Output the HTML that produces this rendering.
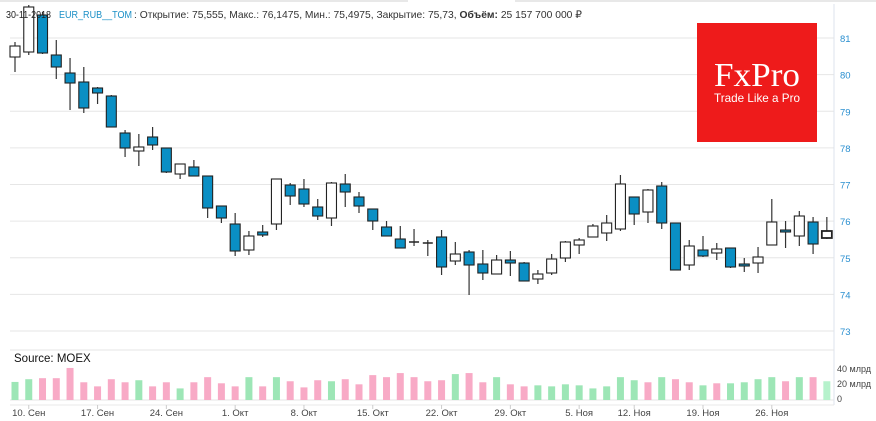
<!DOCTYPE html>
<html><head><meta charset="utf-8"><style>
body{margin:0;background:#fff;}
svg{display:block;font-family:"Liberation Sans",sans-serif;}
</style></head><body>
<svg id="s" width="876" height="421" xmlns="http://www.w3.org/2000/svg">
<rect width="876" height="421" fill="#fff"/>
<line x1="0" y1="1" x2="408" y2="1" stroke="#e8e8e8" stroke-width="2"/>
<line x1="515" y1="1" x2="876" y2="1" stroke="#e8e8e8" stroke-width="2"/>
<g id="grid"></g>
<line x1="834" y1="4" x2="834" y2="405" stroke="#dde3ec"/>
<rect x="697" y="23" width="120" height="119" fill="#ee1b1b"/>
<text x="757" y="86" fill="#fff" font-family="Liberation Serif,serif" font-size="34" text-anchor="middle" textLength="86" lengthAdjust="spacingAndGlyphs">FxPro</text>
<text x="757" y="102" fill="#fff" font-size="12" text-anchor="middle" textLength="86" lengthAdjust="spacingAndGlyphs">Trade Like a Pro</text>
<g id="c"></g>
<text x="6" y="18" font-size="10.5" fill="#222" textLength="45" lengthAdjust="spacingAndGlyphs">30-11-2018</text>
<text x="59" y="18" font-size="10.5" fill="#1a8fc6" textLength="73" lengthAdjust="spacingAndGlyphs">EUR_RUB__TOM</text>
<text x="134" y="18" font-size="10.3" fill="#333"> : Открытие: 75,555, Макс.: 76,1475, Мин.: 75,4975, Закрытие: 75,73, <tspan font-weight="bold">Объём:</tspan> 25 157 700 000 ₽</text>
<line x1="10" y1="350" x2="834" y2="350" stroke="#e4e4e4"/>
<text x="14" y="362" font-size="11.5" fill="#111">Source: MOEX</text>
<line x1="10" y1="400" x2="834" y2="400" stroke="#e4e4e4"/>
<line x1="10" y1="405" x2="834" y2="405" stroke="#e8e8e8"/>
<text x="837" y="372" font-size="9" fill="#444">40 млрд</text>
<text x="837" y="387" font-size="9" fill="#444">20 млрд</text>
<text x="837" y="402" font-size="9" fill="#444">0</text>
<g id="v"></g>
<g id="d"></g>
</svg>
<script>
var NS="http://www.w3.org/2000/svg";
function el(p,t,a,txt){var e=document.createElementNS(NS,t);for(var k in a)e.setAttribute(k,a[k]);if(txt)e.textContent=txt;document.getElementById(p).appendChild(e);}
for(var p=73;p<=81;p++){var y=38+(81-p)*36.625;el("grid","line",{x1:10,y1:y,x2:834,y2:y,stroke:"#e6e6e6"});el("grid","text",{x:840,y:y+4,"font-size":9.5,fill:"#2a8fd0"},String(p));}
var C=[[46,57,42,72,1],[7,52,5,55,1],[15,53,12,54,0],[55,67,40,79,0],[73,83,58,110,0],[82,108,67,113,0],[88,93,87,104,0],[96,127,95,127,0],[133,148,130,157,0],[147,151,134,166,1],[137,145,127,150,0],[148,172,148,173,0],[164,174,164,179,1],[167,176,160,176,0],[176,208,176,218,0],[206,218,206,223,0],[224,251,213,256,0],[236,250,231,255,1],[232,235,225,237,0],[179,224,179,230,1],[185,196,183,205,0],[189,204,179,207,0],[207,216,199,220,0],[183,218,182,226,1],[184,192,174,207,0],[197,206,192,213,0],[209,221,209,230,0],[227,236,221,236,0],[239,248,226,248,0],[242,242,229,246,2],[243,243,240,256,2],[237,267,230,275,0],[254,261,242,265,1],[252,265,250,295,0],[264,273,250,280,0],[260,274,255,274,1],[260,263,251,276,0],[263,281,262,281,0],[274,279,270,284,1],[259,273,254,275,1],[242,258,241,262,1],[240,245,238,254,1],[226,237,224,237,1],[223,233,215,241,1],[184,229,175,231,1],[197,214,197,225,0],[190,212,189,223,1],[186,223,182,229,0],[223,270,223,270,0],[246,265,240,270,1],[250,256,236,257,0],[249,253,243,260,1],[248,267,248,268,0],[264,266,258,272,0],[257,263,247,273,1],[222,245,199,245,1],[230,232,221,248,0],[216,236,211,246,1],[222,244,217,254,0],[231,238,217,239,1]];
var V=[125,117,114,114,84,126,138,117,126,120,138,126,144,126,111,129,138,111,138,111,123,141,120,123,117,132,105,111,99,111,123,120,102,99,126,111,132,138,135,138,132,135,144,138,111,120,126,111,117,126,135,129,129,126,117,111,123,111,111,123];
var VC="ggpppppppgppgppppgpgpppgppppppppgppgppggggggggpgppgpggggpgpL";
for(var i=0;i<60;i++){var x=15+i*13.76,c=C[i];
 el("c","line",{x1:x,y1:c[2],x2:x,y2:c[3],stroke:"#333","stroke-width":1.2});
 if(c[4]==2){el("c","line",{x1:x-5,y1:c[0],x2:x+5,y2:c[0],stroke:"#222","stroke-width":1.5});}
 else el("c","rect",{x:x-5,y:c[0],width:10,height:Math.max(c[1]-c[0],2),fill:c[4]?"#fff":"#0a8fc4",stroke:"#222","stroke-width":i==59?1.8:1.1});
 var h=(178-V[i])/88*30;var col=VC[i]=="g"?"#9de6b6":VC[i]=="p"?"#f8aac6":"#b6f2cc";
 el("v","rect",{x:x-3.5,y:400-h,width:7,height:h,fill:col});
}
var D=[[1,"10. Сен"],[6,"17. Сен"],[11,"24. Сен"],[16,"1. Окт"],[21,"8. Окт"],[26,"15. Окт"],[31,"22. Окт"],[36,"29. Окт"],[41,"5. Ноя"],[45,"12. Ноя"],[50,"19. Ноя"],[55,"26. Ноя"]];
D.forEach(function(q){var x=15+q[0]*13.76;el("d","line",{x1:x,y1:405,x2:x,y2:409,stroke:"#ccc"});el("d","text",{x:x,y:416,"font-size":9.5,fill:"#444","text-anchor":"middle"},q[1]);});
</script>
</body></html>
